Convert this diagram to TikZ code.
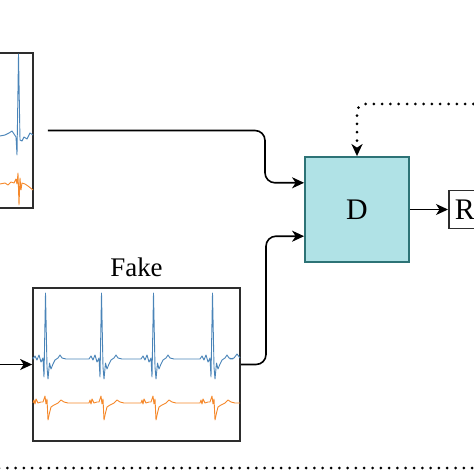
\documentclass[tikz,border=0pt]{standalone}
\usepackage{fontspec}
\setmainfont{Liberation Serif}
\usetikzlibrary{arrows.meta,calc}
\definecolor{ecgblue}{HTML}{4A84B8}
\definecolor{ecgorange}{HTML}{F5882A}
\definecolor{dfill}{RGB}{176,226,230}
\definecolor{ddraw}{RGB}{45,115,118}
\definecolor{boxdraw}{RGB}{45,45,45}
\begin{document}
\begin{tikzpicture}[x=1bp,y=-1bp,
  ecgbox/.style={draw=boxdraw,line width=1.7bp,inner sep=0pt},
  dbox/.style={draw=ddraw,fill=dfill,line width=1.8bp,inner sep=0pt,minimum width=104bp,minimum height=105bp,font=\fontsize{30}{33}\selectfont},
  rbox/.style={draw=boxdraw,line width=1.7bp,inner ysep=0pt,inner xsep=6bp,minimum height=38bp,text width=70bp,align=left,font=\fontsize{30}{33}\selectfont},
  conn/.style={line width=1.6bp,rounded corners=10bp,-{Stealth[length=12bp,width=11bp,inset=3.5bp]}},
  dotline/.style={line width=3bp,line cap=round,dash pattern=on 0bp off 8.3bp},
  ecgb/.style={ecgblue,line width=0.9bp,line join=round},
  ecgo/.style={ecgorange,line width=0.9bp,line join=round}]
\useasboundingbox (0,0) rectangle (474,474);
\clip (0,0) rectangle (474,474);
% boxes
\node[ecgbox,minimum width=133bp,minimum height=155bp] (real) at (-33.5,130.5) {};
\node[ecgbox,minimum width=207bp,minimum height=153bp] (fake) at (136.5,364.5) {};
\node[anchor=base,font=\fontsize{27}{30}\selectfont] (fakelbl) at ([yshift=11bp]fake.north) {Fake};
\node[dbox] (d) at (357,209.5) {D};
\node[rbox,anchor=west] (r) at (d.east -| 448,0) {R};
% ECG in real box
\draw[ecgb] (0,136) -- (5,135) -- (9,133) -- (12,131) -- (14,134) -- (16,137) -- (17,155) -- (18.5,54) -- (20,140) -- (22,141) -- (24,137) -- (27,139) -- (30,133) -- (33,135);
\draw[ecgo] (0,184) -- (5,183) -- (8,185) -- (11,182) -- (14,183) -- (16,179) -- (17,184) -- (18,173) -- (19,205) -- (20,178) -- (21,190) -- (22,183) -- (25,184) -- (28,186) -- (33,190);
% ECG in fake box
\draw[ecgb] (33,357) \foreach \s in {46,102,154,213}{
  -- ({\s-13},359) -- ({\s-11},356) -- ({\s-9},360) -- ({\s-7},355) -- ({\s-5},362) -- ({\s-3},358)
  -- ({\s-2},377) -- ({\s-0.5},293) -- ({\s+1},367) -- ({\s+2},379) -- ({\s+3.5},363) -- ({\s+5},369)
  -- ({\s+7},364) -- ({\s+9},360) -- ({\s+12},358) -- ({\s+14},355) -- ({\s+16},358) -- ({\s+20},359)}
  -- (230,359) -- (234,358) -- (237,354) -- (240,358);
\draw[ecgo] (33,403) \foreach \s in {46,102,154,213}{
  -- ({\s-13},403) -- ({\s-12},400) -- ({\s-11},404) -- ({\s-10},399) -- ({\s-8},403) -- ({\s-5},402)
  -- ({\s-3},402) -- ({\s-1},396) -- ({\s},404) -- ({\s+1},399) -- ({\s+2},420) -- ({\s+3.5},413)
  -- ({\s+5},407) -- ({\s+8},405) -- ({\s+12},403) -- ({\s+15},400) -- ({\s+18},402) -- ({\s+22},403)}
  -- (240,403);
% connectors
\coordinate (din1) at ($(d.north west)!0.25!(d.south west)$);
\coordinate (din2) at ($(d.north west)!0.75!(d.south west)$);
\coordinate (k1) at (265,160);
\coordinate (k2) at (266,300);
\coordinate (src) at (-20,364.5);
\draw[conn,shorten <=14bp] (real.east) -| (k1) |- (din1);
\draw[conn] (fake.east) -| (k2) |- (din2);
\draw[conn] (src) -- (fake.west);
\draw[conn] (d.east) -- (r.west);
% dotted feedback
\coordinate (fb) at (490,104);
\draw[dotline,rounded corners=8bp,-{Stealth[length=12bp,width=11bp,inset=3.5bp]}] (fb) -| (d.north);
\coordinate (bl) at (-1,468);
\coordinate (br) at (480,468);
\draw[dotline] (bl) -- (br);
\end{tikzpicture}
\end{document}
